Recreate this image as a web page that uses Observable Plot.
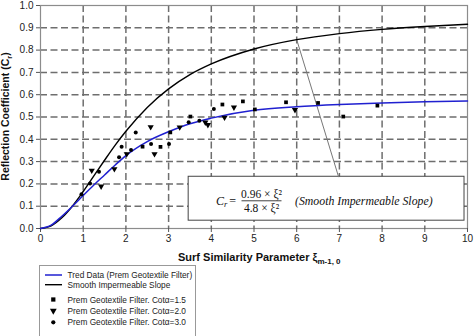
<!DOCTYPE html>
<html><head><meta charset="utf-8">
<script src="https://cdn.jsdelivr.net/npm/d3@7"></script>
<script src="https://cdn.jsdelivr.net/npm/@observablehq/plot@0.6"></script>
<style>
html,body{margin:0;padding:0;background:#fff;}
#chart{width:474px;height:336px;overflow:hidden;}
</style></head><body><div id="chart"></div>
<script>
// ---- data ----
const xTicks = [0,1,2,3,4,5,6,7,8,9,10];
const yTicks = [0,0.1,0.2,0.3,0.4,0.5,0.6,0.7,0.8,0.9,1.0];
const curveXi  = [0,0.25,0.5,0.75,1,1.25,1.5,1.75,2,2.5,3,3.5,4,5,6,7,8,9,10];
const smoothCr = [0,0.012,0.048,0.101,0.166,0.236,0.306,0.374,0.436,0.543,0.626,0.690,0.738,0.805,0.847,0.874,0.893,0.906,0.916];
const trendCr  = [0,0.015,0.055,0.100,0.148,0.195,0.240,0.285,0.327,0.390,0.434,0.470,0.495,0.530,0.546,0.556,0.563,0.568,0.572];
const cot15Xi = [2.39,2.81,3.04,3.51,4.26,4.74,5.02,5.75,6.50,7.09,7.89];
const cot15Cr = [0.367,0.366,0.431,0.502,0.556,0.570,0.534,0.566,0.563,0.502,0.551];
const cot20Xi = [1.20,1.42,1.73,2.02,2.58,2.67,3.26,3.86,3.92,4.31,4.53,5.96];
const cot20Cr = [0.260,0.189,0.267,0.334,0.455,0.334,0.454,0.476,0.465,0.498,0.543,0.532];
const cot30Xi = [0.96,1.16,1.37,1.84,1.90,2.12,2.23,2.59,3.01,3.47,3.72,4.06];
const cot30Cr = [0.154,0.202,0.255,0.319,0.367,0.352,0.431,0.379,0.379,0.476,0.483,0.536];
const legendLabels = ["Tred Data (Prem Geotextile Filter)","Smooth Impermeable Slope",
  "Prem Geotextile Filter. Cot\u03b1=1.5","Prem Geotextile Filter. Cot\u03b1=2.0","Prem Geotextile Filter. Cot\u03b1=3.0"];
const noteBox = [{xi1:3.47, xi2:9.93, cr1:0.035, cr2:0.232}];
const pointerXi = [6.0, 6.98];
const pointerCr = [0.847, 0.232];

// ---- tables ----
const smooth = curveXi.map((xi,i)=>({xi, cr:smoothCr[i]}));
const trend = curveXi.map((xi,i)=>({xi, cr:trendCr[i]}));
const cot15 = cot15Xi.map((xi,i)=>({xi, cr:cot15Cr[i]}));
const cot20 = cot20Xi.map((xi,i)=>({xi, cr:cot20Cr[i]}));
const cot30 = cot30Xi.map((xi,i)=>({xi, cr:cot30Cr[i]}));
const pointer = pointerXi.map((xi,i)=>({xi, cr:pointerCr[i]}));

const BLUE = "#2020d0";
const grid = {stroke:"#6e6e6e", strokeOpacity:1, strokeWidth:1.5, strokeDasharray:"7,3.5"};

const chart = Plot.plot({
  width:474, height:336,
  marginLeft:40, marginRight:7, marginTop:5, marginBottom:108,
  style:{fontFamily:"'Liberation Sans', Arial, sans-serif", fontSize:"10px", color:"#222", background:"#fff"},
  x:{domain:[0,10]},
  y:{domain:[0,1]},
  marks:[
    Plot.gridX(xTicks.slice(1,-1), grid),
    Plot.gridY(yTicks.slice(1,-1), grid),
    Plot.frame({stroke:"#8c8c8c", strokeWidth:1.2}),
    Plot.axisX(xTicks, {tickSize:4, tickPadding:2, label:null, stroke:"#555"}),
    Plot.axisY(yTicks, {tickSize:4, tickPadding:3, label:null, stroke:"#555", tickFormat:d3.format(".1f")}),
    Plot.rect(noteBox, {x1:"xi1", x2:"xi2", y1:"cr1", y2:"cr2", fill:"white", stroke:"#444", strokeWidth:1}),
    Plot.line(pointer, {x:"xi", y:"cr", stroke:"#777", strokeWidth:1}),
    Plot.line(smooth, {x:"xi", y:"cr", stroke:"black", strokeWidth:1.4, curve:"monotone-x"}),
    Plot.line(trend, {x:"xi", y:"cr", stroke:BLUE, strokeWidth:1.5, curve:"monotone-x"}),
    Plot.dot(cot15, {x:"xi", y:"cr", symbol:"square", r:2.1, fill:"black"}),
    Plot.dot(cot20, {x:"xi", y:"cr", symbol:"triangle", rotate:180, r:2.3, fill:"black"}),
    Plot.dot(cot30, {x:"xi", y:"cr", symbol:"circle", r:2.0, fill:"black"})
  ]
});
document.getElementById("chart").appendChild(chart);

const svg = d3.select(chart);
const sx = chart.scale("x"), sy = chart.scale("y");

// y title
const yt = svg.append("text")
  .attr("transform", `translate(9,${(sy.apply(0)+sy.apply(1))/2}) rotate(-90)`)
  .attr("text-anchor","middle").attr("font-weight","bold").attr("font-size",10.5).attr("fill","#111")
  .attr("font-family","'Liberation Sans', Arial, sans-serif");
yt.append("tspan").text("Reflection Coefficient (C");
yt.append("tspan").attr("font-size",7.5).attr("dy",2.5).text("r");
yt.append("tspan").attr("dy",-2.5).text(")");

// x title
const xt = svg.append("text")
  .attr("x",178).attr("y",261).attr("text-anchor","start").attr("font-weight","bold").attr("font-size",11).attr("fill","#111")
  .attr("font-family","'Liberation Sans', Arial, sans-serif");
xt.append("tspan").text("Surf Similarity Parameter \u03be");
xt.append("tspan").attr("font-size",8).attr("dy",3).text("m-1, 0");

// formula inside the box
const serif = "'Liberation Serif', 'DejaVu Serif', serif";
const fy = sy.apply(0.122);
const f = svg.append("g").attr("font-family", serif).attr("fill","#111").attr("text-anchor","start");
const c = f.append("text").attr("x",216).attr("y",fy+4).attr("font-style","italic").attr("font-size",12);
c.append("tspan").text("C");
c.append("tspan").attr("font-size",8.5).attr("dy",2.5).text("r");
c.append("tspan").attr("dy",-2.5).attr("font-style","normal").attr("dx",2).text("=");
f.append("text").attr("x",261.5).attr("y",fy-2.5).attr("text-anchor","middle").attr("font-size",11.5).text("0.96 \u00d7 \u03be\u00b2");
f.append("line").attr("x1",241.5).attr("x2",281.5).attr("y1",fy).attr("y2",fy).attr("stroke","#111").attr("stroke-width",0.8);
f.append("text").attr("x",261.5).attr("y",fy+11).attr("text-anchor","middle").attr("font-size",11.5).text("4.8 \u00d7 \u03be\u00b2");
f.append("text").attr("x",295).attr("y",fy+3.8).attr("font-style","italic").attr("font-size",11.8).text("(Smooth Impermeable Slope)");

// legend
const lg = svg.append("g").attr("font-family","'Liberation Sans', Arial, sans-serif").attr("font-size",8.3).attr("fill","#222").attr("text-anchor","start");
lg.append("rect").attr("x",39.5).attr("y",265.5).attr("width",156).attr("height",80).attr("fill","white").attr("stroke","#999");
const rows = [275,284.7,299.5,310.8,322.3];
lg.append("line").attr("x1",45).attr("x2",62).attr("y1",rows[0]).attr("y2",rows[0]).attr("stroke",BLUE).attr("stroke-width",1.5);
lg.append("line").attr("x1",45).attr("x2",62).attr("y1",rows[1]).attr("y2",rows[1]).attr("stroke","black").attr("stroke-width",1.4);
lg.append("path").attr("transform",`translate(53.3,${rows[2]})`).attr("d",d3.symbol(d3.symbolSquare, 18)()).attr("fill","black");
lg.append("path").attr("transform",`translate(53.3,${rows[3]}) rotate(180)`).attr("d",d3.symbol(d3.symbolTriangle, 20)()).attr("fill","black");
lg.append("path").attr("transform",`translate(53.3,${rows[4]})`).attr("d",d3.symbol(d3.symbolCircle, 14)()).attr("fill","black");
legendLabels.forEach((t,i)=>{
  lg.append("text").attr("x",67.5).attr("y",rows[i]+3).text(t);
});
</script></body></html>
